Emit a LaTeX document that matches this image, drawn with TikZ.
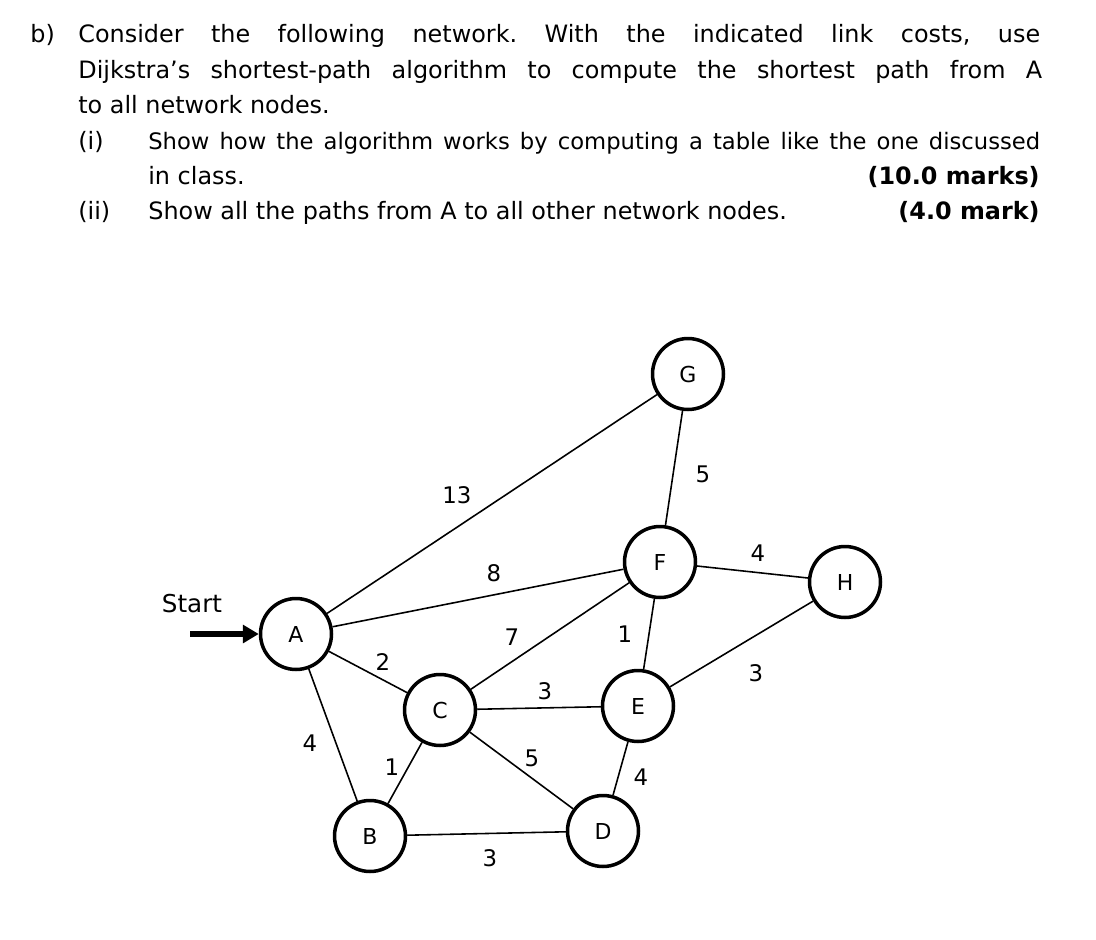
\documentclass[tikz,border=0pt]{standalone}
\usepackage{fontspec}
\setmainfont{DejaVu Sans}
\frenchspacing
\usetikzlibrary{arrows.meta}
\begin{document}
\begin{tikzpicture}[x=0.02cm,y=-0.02cm,
  vtx/.style={circle,draw,line width=2pt,minimum size=1.42cm,inner sep=0pt,font=\fontsize{12.5}{14}\selectfont},
  edge/.style={line width=0.9pt},
  lbl/.style={font=\fontsize{13}{15}\selectfont,inner sep=0pt},
  txt/.style={anchor=base west,inner sep=0pt,font=\fontsize{13.6}{16}\selectfont}]
\useasboundingbox (0,0) rectangle (1096,940);
% text
\node[txt] (t1) at (30,42) {b)};
\node[txt] (t2) at (78,42) {\makebox[19.24cm][s]{Consider the following network.\ With the indicated link costs, use}};
\node[txt] (t3) at (78,78) {\makebox[19.28cm][s]{Dijkstra’s shortest-path algorithm to compute the shortest path from A}};
\node[txt] (t4) at (78,113) {to all network nodes.};
\node[txt] (t5) at (78,149) {(i)};
\node[txt] (t6) at (148,149) {\makebox[17.84cm][s]{\fontsize{12.9}{15}\selectfont Show how the algorithm works by computing a table like the one discussed}};
\node[txt] (t7) at (148,184) {in class.};
\node[txt,anchor=base east] (t8) at (1040,184) {\textbf{(10.0 marks)}};
\node[txt] (t9) at (78,219) {(ii)};
\node[txt] (t10) at (148,219) {Show all the paths from A to all other network nodes.};
\node[txt,anchor=base east] (t11) at (1040,219) {\textbf{(4.0 mark)}};
% nodes
\node[vtx] (G) at (688,374) {G};
\node[vtx] (F) at (660,562) {F};
\node[vtx] (H) at (845,582) {H};
\node[vtx] (A) at (296,634) {A};
\node[vtx] (C) at (440,710) {C};
\node[vtx] (E) at (638,706) {E};
\node[vtx] (B) at (370,836) {B};
\node[vtx] (D) at (603,831) {D};
% edges
\draw[edge] (A)--(G); \draw[edge] (A)--(F); \draw[edge] (A)--(C); \draw[edge] (A)--(B);
\draw[edge] (C)--(B); \draw[edge] (C)--(F); \draw[edge] (C)--(E); \draw[edge] (C)--(D);
\draw[edge] (B)--(D); \draw[edge] (E)--(D); \draw[edge] (E)--(F); \draw[edge] (E)--(H);
\draw[edge] (F)--(H); \draw[edge] (F)--(G);
% labels
\node[lbl] (l1) at (457,495) {13};
\node[lbl] (l2) at (494,573) {8};
\node[lbl] (l3) at (512,637) {7};
\node[lbl] (l4) at (625,634) {1};
\node[lbl] (l5) at (383,662) {2};
\node[lbl] (l6) at (545,691) {3};
\node[lbl] (l7) at (532,758) {5};
\node[lbl] (l8) at (310,743) {4};
\node[lbl] (l9) at (392,767) {1};
\node[lbl] (l10) at (490,858) {3};
\node[lbl] (l11) at (641,777) {4};
\node[lbl] (l12) at (756,673) {3};
\node[lbl] (l13) at (758,553) {4};
\node[lbl] (l14) at (703,474) {5};
% start
\node[lbl,font=\fontsize{14}{16}\selectfont] (st) at (192,604) {Start};
\coordinate (s0) at (190,634);
\draw[line width=3pt,-{Triangle[length=9pt,width=10pt]}] (s0) -- (A.west);
\end{tikzpicture}
\end{document}
